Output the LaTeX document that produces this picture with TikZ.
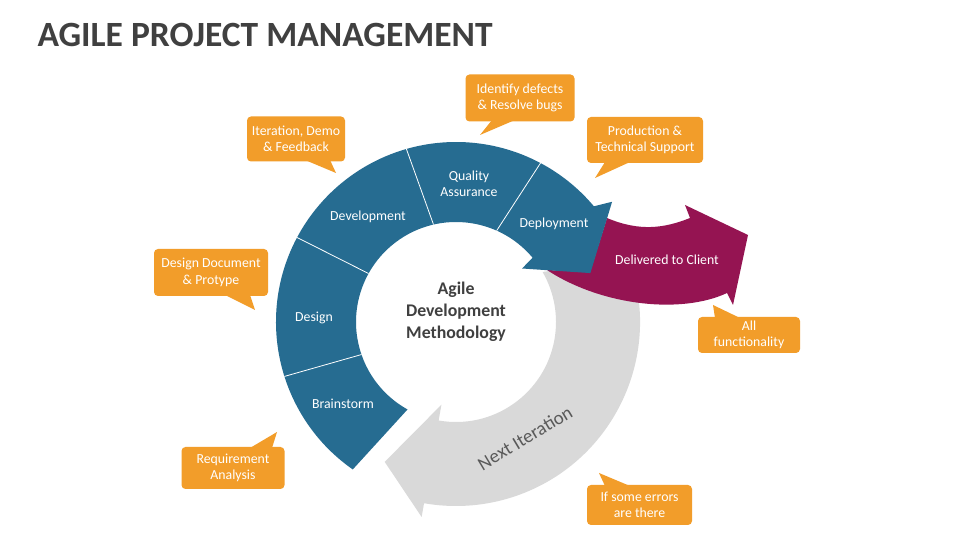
\documentclass[tikz,border=0pt]{standalone}
\usepackage{fontspec}
\setmainfont{Carlito}
\usetikzlibrary{calc}
\definecolor{bl}{HTML}{266C91}
\definecolor{mg}{HTML}{951452}
\definecolor{gr}{HTML}{D9D9D9}
\definecolor{orc}{HTML}{F29D2A}
\definecolor{tt}{HTML}{404040}
\begin{document}
\begin{tikzpicture}[x=1pt,y=1pt,
  call/.style={fill=orc,rounded corners=4pt,text=white,align=center,font=\fontsize{13.8}{16.5}\selectfont,inner sep=0pt},
  seg/.style={text=white,align=center,font=\fontsize{13.8}{16.5}\selectfont}]
\useasboundingbox (0,0) rectangle (960,540);
\fill[white] (0,0) rectangle (960,540);
\node[anchor=west,font=\bfseries\fontsize{35.5}{38}\selectfont,text=tt] (title) at (34,505) {AGILE PROJECT MANAGEMENT};
\coordinate (c) at (456,218);
% gray arrow
\fill[gr] ($(c)+(20:184)$) arc (20:-100:184) -- ($(c)+(-100:198)$) -- ($(c)+(-117:157)$) -- ($(c)+(-100:84)$) -- ($(c)+(-100:100)$) arc (-100:30:100) -- cycle;
% magenta arrow
\fill[mg] (607,322) .. controls (640,308) and (665,312) .. (690,322) -- (685,335) -- (748,305) -- (733,235) -- (727,247) .. controls (680,225) and (600,235) .. (547,270) -- (590,268) -- cycle;
% blue ring
\fill[bl] ($(c)+(235:180)$) arc (235:40:180) -- ($(c)+(37.6:197)$) -- ($(c)+(20:143)$) -- ($(c)+(39:85)$) -- ($(c)+(40:100)$) arc (40:241:100) -- cycle;
\foreach \a/\b in {197.6/199,152/151,106/103,62/66}
  \draw[white,line width=0.8pt] ($(c)+(\a:180)$) -- ($(c)+(\b:100)$);
\node[seg] (brain) at (343,136) {Brainstorm};
\node[seg] (design) at (314,222) {Design};
\node[seg] (dev) at (368,323) {Development};
\node[seg] (qa) at (469,356) {Quality\\Assurance};
\node[seg] (dep) at (554,316) {Deployment};
\node[seg] (deliv) at (667,280) {Delivered to Client};
\node[align=center,text=tt,font=\bfseries\fontsize{17.8}{22}\selectfont] (ctr) at (456,228) {Agile\\Development\\Methodology};
\node[rotate=31,text=black!65,font=\fontsize{19}{22}\selectfont] (next) at (525,102) {Next Iteration};
% callouts
\node[call,minimum width=109pt,minimum height=47pt] (b1) at (520,442) {Identify defects\\\& Resolve bugs};
\fill[orc] (492,420) -- (515,420) -- (480,405) -- cycle;
\node[call,minimum width=98pt,minimum height=45pt] (b2) at (296,401) {Iteration, Demo\\\& Feedback};
\fill[orc] (305,380) -- (330,380) -- (336,367) -- cycle;
\node[call,minimum width=116pt,minimum height=46pt] (b3) at (645,400) {Production \&\\Technical Support};
\fill[orc] (605,378) -- (630,378) -- (595,362) -- cycle;
\node[call,minimum width=114pt,minimum height=47pt] (b4) at (211,267.5) {Design Document\\\& Protype};
\fill[orc] (225,245) -- (250,245) -- (255,230) -- cycle;
\node[call,minimum width=102pt,minimum height=36pt] (b5) at (749,205) {All\\functionality};
\fill[orc] (715,222) -- (740,222) -- (713,235) -- cycle;
\node[call,minimum width=103pt,minimum height=42pt] (b6) at (233,72) {Requirement\\Analysis};
\fill[orc] (250,92) -- (272,92) -- (277,108) -- cycle;
\node[call,minimum width=105pt,minimum height=40pt] (b7) at (639.5,35) {If some errors\\are there};
\fill[orc] (605,54) -- (630,54) -- (599,67) -- cycle;
\end{tikzpicture}
\end{document}
